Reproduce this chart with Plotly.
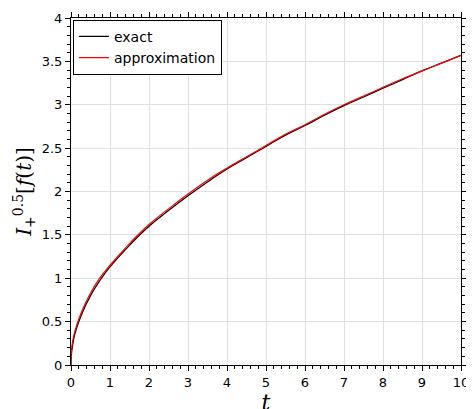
import plotly.graph_objects as go

t = [0, 0.005, 0.02, 0.05, 0.1, 0.25, 0.5, 0.75, 1, 1.5, 2, 2.5, 3, 3.5, 4, 4.5, 5, 5.5, 6, 6.5, 7, 7.5, 8, 8.5, 9, 9.5, 10]
exact = [0, 0.08, 0.16, 0.25, 0.36, 0.56, 0.80, 0.98, 1.13, 1.38, 1.60, 1.78, 1.95, 2.11, 2.26, 2.39, 2.52, 2.65, 2.76, 2.88, 2.99, 3.09, 3.19, 3.29, 3.39, 3.48, 3.57]
approx = [0, 0.13, 0.21, 0.29, 0.39, 0.59, 0.83, 1.01, 1.15, 1.40, 1.62, 1.80, 1.97, 2.13, 2.27, 2.40, 2.53, 2.66, 2.77, 2.89, 3.00, 3.10, 3.20, 3.30, 3.39, 3.48, 3.57]

fig = go.Figure()
fig.add_trace(go.Scatter(x=t, y=exact, mode="lines", name="exact",
                         line=dict(color="black", width=1.2, shape="spline", smoothing=1.3)))
fig.add_trace(go.Scatter(x=t, y=approx, mode="lines", name="approximation",
                         line=dict(color="red", width=1.2, shape="spline", smoothing=1.3)))

axis_style = dict(showline=True, linecolor="black", linewidth=1, mirror="allticks",
                  ticks="outside", ticklen=5, tickcolor="black", automargin=False,
                  showgrid=True, gridcolor="#e0e0e0", zeroline=False,
                  tickfont=dict(family="DejaVu Sans", size=13, color="black"),
                  minor=dict(ticks="outside", ticklen=3, tickcolor="black", showgrid=False))

fig.update_xaxes(range=[0, 10], dtick=1, minor_dtick=0.2,
                 title=dict(text="<i>t</i>", font=dict(family="DejaVu Serif", size=22, color="black"), standoff=2),
                 **axis_style)
fig.update_yaxes(range=[0, 4], dtick=0.5, minor_dtick=0.1,
                 title=dict(text="<i>I</i><sub>+</sub><sup>0.5</sup>[<i>f</i>(<i>t</i>)]",
                            font=dict(family="DejaVu Serif", size=20, color="black"), standoff=4),
                 **axis_style)

fig.update_layout(width=474, height=409, plot_bgcolor="white", paper_bgcolor="white",
                  margin=dict(l=63, r=21, t=10, b=52, autoexpand=False),
                  legend=dict(x=0.005, y=0.995, xanchor="left", yanchor="top",
                              bordercolor="black", borderwidth=1, bgcolor="white",
                              font=dict(family="DejaVu Sans", size=14, color="black"),
                              tracegroupgap=0, itemwidth=30))

fig.write_html("out.html")
